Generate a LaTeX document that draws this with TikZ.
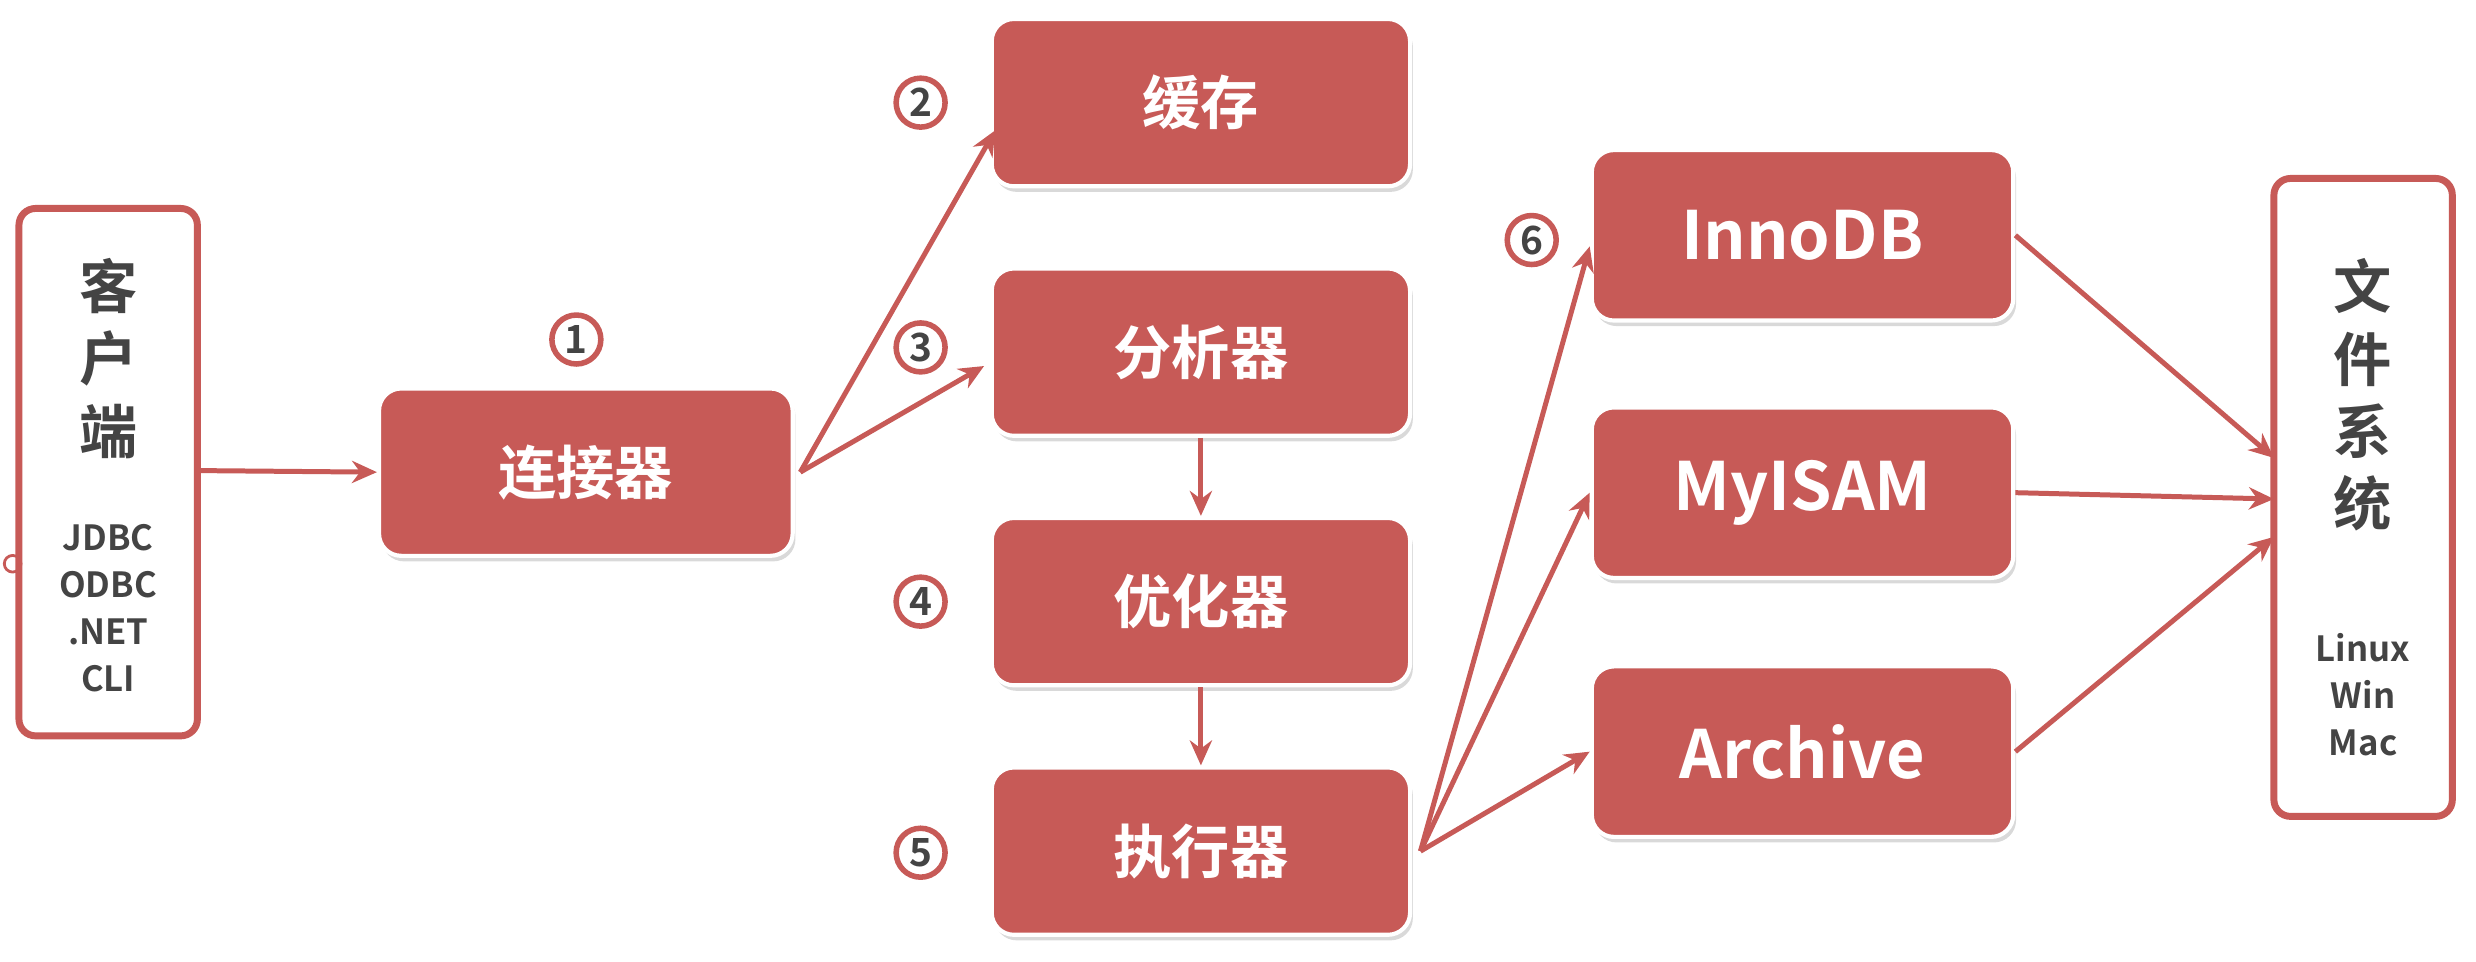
\documentclass[tikz,border=0pt]{standalone}
\usepackage{fontspec}
\setmainfont{Noto Sans CJK SC}[BoldFont={* Bold}]
\usetikzlibrary{arrows.meta,shadows}
\definecolor{boxred}{HTML}{C75A57}
\definecolor{txtgray}{HTML}{444444}
\begin{document}
\begin{tikzpicture}[x=0.02cm,y=-0.02cm,
  redbox/.style={draw=white,line width=1.5pt,fill=boxred,rounded corners=8pt,text=white,font=\bfseries\fontsize{21}{25}\selectfont,drop shadow={shadow xshift=1pt,shadow yshift=-2pt,opacity=0.3}},
  sidebox/.style={draw=boxred,line width=2.5pt,fill=white,rounded corners=6pt},
  num/.style={circle,draw=boxred,line width=2pt,inner sep=0pt,minimum size=0.62cm,text=txtgray,font=\bfseries\fontsize{14}{16}\selectfont},
  arr/.style={draw=boxred,line width=1.8pt,-{Stealth[length=9pt,width=8pt]}}]
\useasboundingbox (0,0) rectangle (1568,609);
% side boxes
\draw[sidebox] (12,132) rectangle (125,466);
\node[text=txtgray,font=\bfseries\fontsize{21}{26}\selectfont,align=center] (clt) at (68.5,227) {客\\户\\端};
\node[text=txtgray,font=\bfseries\fontsize{12.5}{17}\selectfont,align=center] (clx) at (68.5,385) {JDBC\\ODBC\\.NET\\CLI};
\draw[sidebox] (1440,113) rectangle (1553,517);
\node[text=txtgray,font=\bfseries\fontsize{21}{26}\selectfont,align=center] (fst) at (1496.5,250) {文\\件\\系\\统};
\node[text=txtgray,font=\bfseries\fontsize{12.5}{17}\selectfont,align=center] (fsx) at (1496.5,440) {Linux\\Win\\Mac};
\draw[boxred,line width=1pt] (8,357) circle (3pt);
\coordinate (clR) at (125,298);
\coordinate (fsA) at (1440,290);
\coordinate (fsB) at (1440,316);
\coordinate (fsC) at (1440,340);
% red boxes
\node[redbox,minimum width=5.24cm,minimum height=2.12cm] (conn) at (371,299) {连接器};
\node[redbox,minimum width=5.3cm,minimum height=2.12cm] (cache) at (760.5,65) {缓存};
\node[redbox,minimum width=5.3cm,minimum height=2.12cm] (ana) at (760.5,223) {分析器};
\node[redbox,minimum width=5.3cm,minimum height=2.12cm] (opt) at (760.5,381) {优化器};
\node[redbox,minimum width=5.3cm,minimum height=2.12cm] (exe) at (760.5,539) {执行器};
\node[redbox,minimum width=5.34cm,minimum height=2.16cm,font=\bfseries\fontsize{24}{28}\selectfont] (inno) at (1141.5,149) {InnoDB};
\node[redbox,minimum width=5.34cm,minimum height=2.16cm,font=\bfseries\fontsize{24}{28}\selectfont] (myi) at (1141.5,312) {MyISAM};
\node[redbox,minimum width=5.34cm,minimum height=2.16cm,font=\bfseries\fontsize{24}{28}\selectfont] (arc) at (1141.5,476) {Archive};
% numbers
\node[num] (n1) at (365,215) {1};
\node[num] (n2) at (583,65) {2};
\node[num] (n3) at (583,220) {3};
\node[num] (n4) at (583,381) {4};
\node[num] (n5) at (583,540) {5};
\node[num] (n6) at (970,152) {6};
% arrows
\draw[arr] (clR) -- (conn.west);
\draw[arr] ([xshift=2pt]conn.east) -- ([xshift=2pt,yshift=-10pt]cache.west);
\draw[arr] ([xshift=2pt]conn.east) -- ([xshift=-2pt,yshift=-5pt]ana.west);
\draw[arr] (ana.south) -- (opt.north);
\draw[arr] (opt.south) -- (exe.north);
\draw[arr] ([xshift=3pt]exe.east) -- ([yshift=-4pt]inno.west);
\draw[arr] ([xshift=3pt]exe.east) -- (myi.west);
\draw[arr] ([xshift=3pt]exe.east) -- (arc.west);
\draw[arr] (inno.east) -- (fsA);
\draw[arr] (myi.east) -- (fsB);
\draw[arr] (arc.east) -- (fsC);
\end{tikzpicture}
\end{document}
